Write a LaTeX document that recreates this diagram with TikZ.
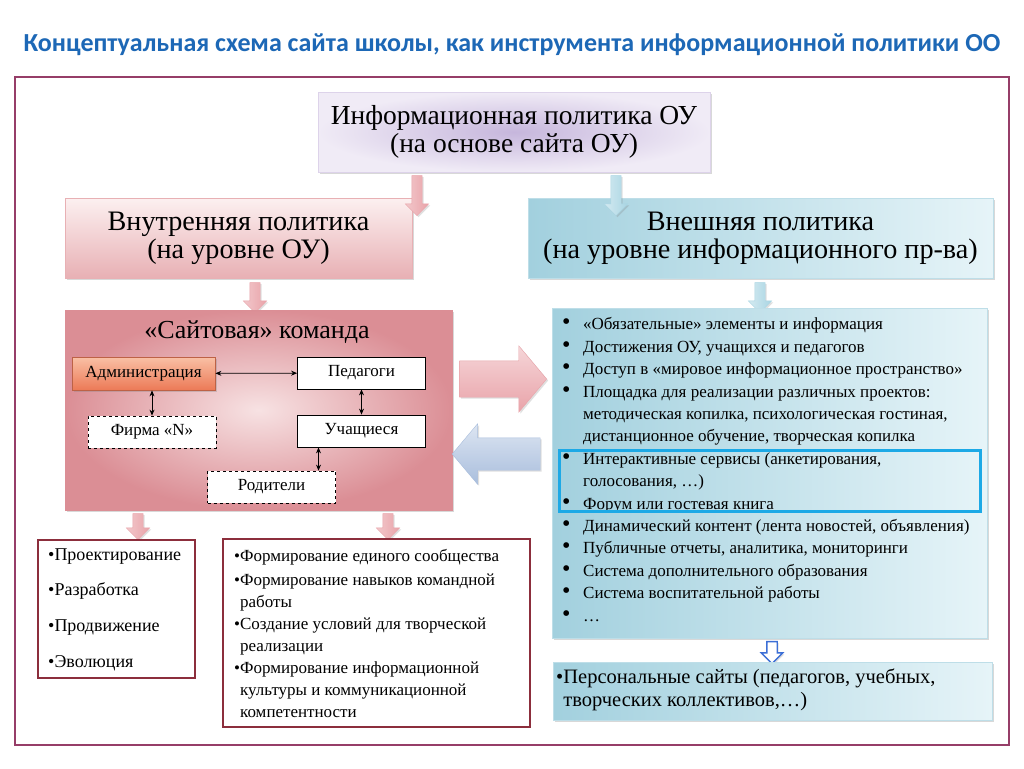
\documentclass[tikz,border=0pt]{standalone}
\usepackage{fontspec}
\setmainfont{Liberation Serif}
\newfontfamily\headfont{Carlito}
\usetikzlibrary{shapes.arrows,shadows,arrows.meta}
\pgfdeclarelayer{bg}
\pgfsetlayers{bg,main}

\definecolor{titleblue}{HTML}{1D68B6}
\definecolor{framered}{HTML}{963E68}
\definecolor{boxred}{HTML}{8C2E3C}
\definecolor{lavin}{HTML}{C6B6DC}
\definecolor{lavout}{HTML}{F0EBF6}
\definecolor{pinklt}{HTML}{FCF0F0}
\definecolor{pinkdk}{HTML}{E8B0B4}
\definecolor{teamin}{HTML}{F7E2E3}
\definecolor{teamout}{HTML}{DB8E95}
\definecolor{bluelt}{HTML}{E6F4F8}
\definecolor{bluedk}{HTML}{A2D0DE}
\definecolor{admlt}{HTML}{F9C0A5}
\definecolor{admdk}{HTML}{EC7A57}
\definecolor{hlblue}{HTML}{1CA9E6}
\definecolor{navy}{HTML}{3C6FD6}
\definecolor{arrpink}{HTML}{E9A3A9}
\definecolor{arrblue}{HTML}{A9D5E3}
\definecolor{arrlav}{HTML}{A9BEDD}

\newcommand{\bul}{\textbullet}
\newcommand{\bigbul}{{\fontsize{24}{22}\selectfont\textbullet}}

\tikzset{
  box/.style={rectangle, inner sep=0pt, align=center,
    drop shadow={shadow xshift=2pt, shadow yshift=-2pt, opacity=.3}},
  lavbox/.style={box, inner color=lavin, outer color=lavout, draw=lavin!60!white},
  pinkbox/.style={box, top color=pinklt, bottom color=pinkdk, draw=pinkdk},
  bluebox/.style={box, left color=bluedk, right color=bluelt, draw=bluedk!70!white},
  teambox/.style={box, inner color=teamin, outer color=teamout, draw=teamout},
  member/.style={rectangle, draw, fill=white, line width=0.8pt, inner sep=0pt,
    minimum width=128, minimum height=32, font=\fontsize{17}{19}\selectfont},
  guest/.style={member, dashed},
  listbox/.style={rectangle, draw=boxred, line width=1.8pt, fill=white, inner sep=0pt},
  blockarrow/.style={single arrow, minimum width=0pt, single arrow head indent=0pt,
    drop shadow={shadow xshift=1.5pt, shadow yshift=-1.5pt, opacity=.25}},
  downarrow/.style={blockarrow, shape border rotate=270, inner sep=5pt,
    single arrow head extend=6.5pt},
  pinkdown/.style={downarrow, left color=arrpink!60!white, right color=arrpink, draw=arrpink},
  bluedown/.style={downarrow, left color=arrblue!50!white, right color=arrblue, draw=arrblue},
  link/.style={line width=0.8pt, {Stealth[length=6pt,width=5pt]}-{Stealth[length=6pt,width=5pt]}},
  itemtext/.style={anchor=north west, inner sep=0pt}
}

\begin{document}
\begin{tikzpicture}[x=1pt, y=-1pt]
        \useasboundingbox (0,0) rectangle (1024,768);
        \fill[white] (0,0) rectangle (1024,768);

        \node (title) [font=\headfont\bfseries\fontsize{26}{30}\selectfont, text=titleblue] at (512, 45)
                {Концептуальная схема сайта школы, как инструмента информационной политики ОО};
        \node (frame) [draw=framered, line width=2.5pt, minimum width=994, minimum height=668] at (512, 411) {};

        % policy boxes
        \node (pol) [lavbox, minimum width=392, minimum height=80, font=\fontsize{27.5}{28}\selectfont] at (514, 132)
                {Информационная политика ОУ\\(на основе сайта ОУ)};
        \node (inpol) [pinkbox, minimum width=347, minimum height=80, font=\fontsize{28.2}{28}\selectfont] at (238.5, 238)
                {Внутренняя политика\\(на уровне ОУ)};
        \node (expol) [bluebox, minimum width=465, minimum height=80, font=\fontsize{28.2}{28}\selectfont] at (760.5, 238)
                {Внешняя политика\\(на уровне информационного пр-ва)};

        \node (a1) [pinkdown, minimum height=40] at (417, 193) {};
        \node (a2) [bluedown, minimum height=40] at (616, 193) {};
        \node (a3) [pinkdown, minimum height=30] at (255, 295) {};
        \node (a4) [bluedown, minimum height=30] at (760, 295) {};

        % site team
        \node (team) [teambox, minimum width=387, minimum height=200] at (258.5, 410) {};
        \node (teamname) [font=\fontsize{26}{28}\selectfont] at (257, 332) {«Сайтовая» команда};
        \node (adm) [member, top color=admlt, bottom color=admdk, draw=admdk!80!black, minimum width=143, minimum height=33,
                drop shadow={shadow xshift=2pt, shadow yshift=-2pt, opacity=.3}] at (143.5, 373.5) {Администрация};
        \node (ped) [member] at (361.5, 373) {Педагоги};
        \node (firm) [guest] at (152, 432) {Фирма «N»};
        \node (stud) [member] at (361.5, 431) {Учащиеся};
        \node (par) [guest] at (271.5, 487) {Родители};

        \draw (adm) edge [link] (ped);
        \draw (firm.north |- adm.south) edge [link] (firm.north);
        \draw (ped) edge [link] (stud);
        \draw ([xshift=47pt]par.north) edge [link] ([xshift=47pt]par.north |- stud.south);

        \node (a5) [blockarrow, inner sep=18pt, single arrow head extend=15pt, single arrow tip angle=100,
                minimum height=87, top color=arrpink!45!white, bottom color=arrpink, draw=arrpink] at (495.5, 379) {};
        \node (a6) [blockarrow, inner sep=16pt, single arrow head extend=14pt, single arrow tip angle=100,
                shape border rotate=180, minimum height=88, top color=arrlav!40!white, bottom color=arrlav,
                draw=arrlav] at (503, 454) {};

        % external resources
        \node (list) [bluebox, minimum width=435, minimum height=330] at (769.5, 473) {};
        \node (items) [itemtext, font=\fontsize{17}{22.4}\selectfont] at (562, 314) {%
                \begin{tabular}{@{}p{16pt}@{\hspace{5pt}}l@{}}
                \bigbul & «Обязательные» элементы и информация\\
                \bigbul & Достижения ОУ, учащихся и педагогов\\
                \bigbul & Доступ в «мировое информационное пространство»\\
                \bigbul & Площадка для реализации различных проектов:\\
                        & методическая копилка, психологическая гостиная,\\
                        & дистанционное обучение, творческая копилка\\
                \bigbul & Интерактивные сервисы (анкетирования,\\
                        & голосования, …)\\
                \bigbul & Форум или гостевая книга\\
                \bigbul & Динамический контент (лента новостей, объявления)\\
                \bigbul & Публичные отчеты, аналитика, мониторинги\\
                \bigbul & Система дополнительного образования\\
                \bigbul & Система воспитательной работы\\
                \bigbul & …
                \end{tabular}};
        \node (hl) [draw=hlblue, line width=3pt, minimum width=421, minimum height=61] at (769.5, 480.5) {};

        \node (a9) [blockarrow, shape border rotate=270, inner sep=4.5pt, single arrow head extend=5.5pt,
                minimum height=22, fill=white, draw=navy, line width=1.4pt] at (772, 650) {};
        \node (pers) [bluebox, minimum width=439, minimum height=58] at (772.5, 691) {};
        \node (perstext) [itemtext, font=\fontsize{20.5}{23}\selectfont] at (556, 667) {%
                \begin{tabular}{@{}l@{}}
                \bul Персональные сайты (педагогов, учебных,\\
                \phantom{\bul}творческих коллективов,…)
                \end{tabular}};

        % results of the team
        \node (a7) [pinkdown, minimum height=26] at (138, 524) {};
        \node (a8) [pinkdown, minimum height=26] at (388, 524) {};
        \node (act) [listbox, minimum width=157, minimum height=138] at (116.5, 609) {};
        \node (acttext) [itemtext, font=\fontsize{18}{35.7}\selectfont] at (48, 535) {%
                \begin{tabular}{@{}l@{}}
                \bul Проектирование\\
                \bul Разработка\\
                \bul Продвижение\\
                \bul Эволюция
                \end{tabular}};
        \node (goals) [listbox, minimum width=307, minimum height=188] at (376.5, 633) {};
        \node (goalstext) [itemtext, font=\fontsize{17}{22}\selectfont] at (234, 546) {%
                \begin{tabular}{@{}l@{}}
                \bul Формирование единого сообщества\\[2pt]
                \bul Формирование навыков командной\\
                \phantom{\bul}работы\\
                \bul Создание условий для творческой\\
                \phantom{\bul}реализации\\
                \bul Формирование информационной\\
                \phantom{\bul}культуры и коммуникационной\\
                \phantom{\bul}компетентности
                \end{tabular}};
\end{tikzpicture}
\end{document}
